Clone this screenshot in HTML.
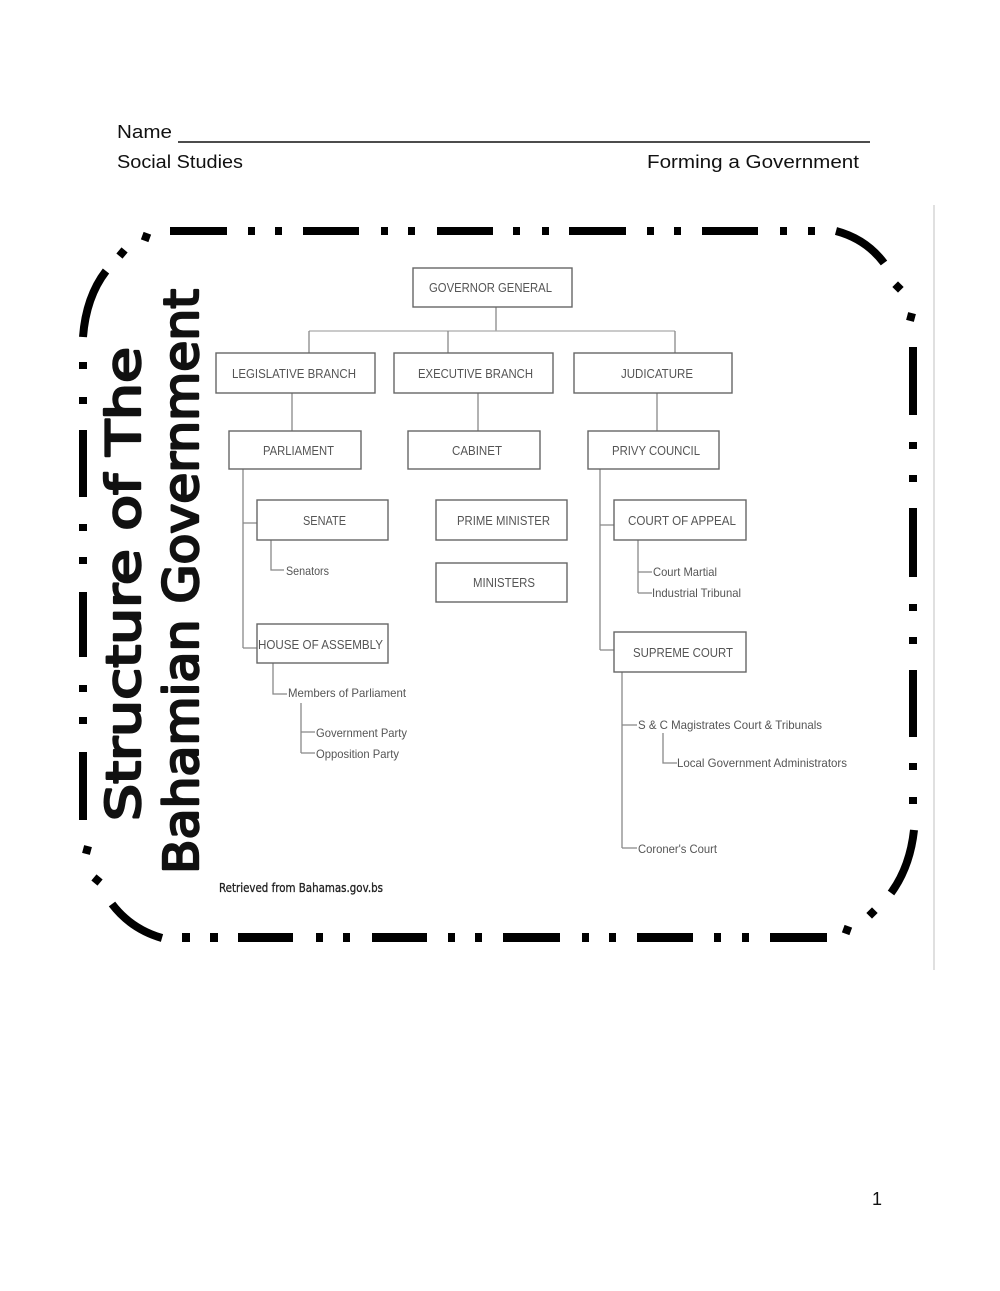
<!DOCTYPE html>
<html><head><meta charset="utf-8"><style>
html,body{margin:0;padding:0;background:#fff;}
svg{display:block;}
.h{font-family:"Liberation Sans",sans-serif;font-size:18px;fill:#111;}
.b{font-family:"Liberation Sans",sans-serif;font-size:12.5px;fill:#555;}
.l{font-family:"Liberation Sans",sans-serif;font-size:12px;fill:#555;}
.t{font-family:"DejaVu Sans","Liberation Sans",sans-serif;font-weight:normal;fill:#111;stroke:#111;stroke-width:2.4;stroke-linejoin:round;}
</style></head><body>
<svg width="1000" height="1291" viewBox="0 0 1000 1291" xmlns="http://www.w3.org/2000/svg">
<rect width="1000" height="1291" fill="#fff"/>
<!-- header -->
<text class="h" x="117" y="138" textLength="55" lengthAdjust="spacingAndGlyphs">Name</text>
<line x1="178" y1="142" x2="870" y2="142" stroke="#111" stroke-width="1.4"/>
<text class="h" x="117" y="168" textLength="126" lengthAdjust="spacingAndGlyphs">Social Studies</text>
<text class="h" x="647" y="168" textLength="212" lengthAdjust="spacingAndGlyphs">Forming a Government</text>
<line x1="934" y1="205" x2="934" y2="970" stroke="#ccc" stroke-width="1.2"/>

<!-- border -->
<g fill="#000">
<rect x="170" y="227" width="57" height="8"/><rect x="303" y="227" width="56" height="8"/><rect x="437" y="227" width="56" height="8"/><rect x="569" y="227" width="57" height="8"/><rect x="702" y="227" width="56" height="8"/>
<rect x="248" y="227" width="7" height="8"/><rect x="275" y="227" width="7" height="8"/><rect x="381" y="227" width="7" height="8"/><rect x="408" y="227" width="7" height="8"/><rect x="513" y="227" width="7" height="8"/><rect x="542" y="227" width="7" height="8"/><rect x="647" y="227" width="7" height="8"/><rect x="674" y="227" width="7" height="8"/><rect x="780" y="227" width="7" height="8"/><rect x="808" y="227" width="7" height="8"/>
<rect x="238" y="933" width="55" height="9"/><rect x="372" y="933" width="55" height="9"/><rect x="503" y="933" width="57" height="9"/><rect x="637" y="933" width="56" height="9"/><rect x="770" y="933" width="57" height="9"/>
<rect x="182" y="933" width="8" height="9"/><rect x="210" y="933" width="8" height="9"/><rect x="316" y="933" width="7" height="9"/><rect x="343" y="933" width="7" height="9"/><rect x="448" y="933" width="7" height="9"/><rect x="475" y="933" width="7" height="9"/><rect x="582" y="933" width="7" height="9"/><rect x="609" y="933" width="7" height="9"/><rect x="714" y="933" width="7" height="9"/><rect x="742" y="933" width="7" height="9"/>
<rect x="79" y="430" width="8" height="67"/><rect x="79" y="592" width="8" height="65"/><rect x="79" y="752" width="8" height="68"/>
<rect x="79" y="362" width="8" height="7"/><rect x="79" y="397" width="8" height="7"/><rect x="79" y="524" width="8" height="7"/><rect x="79" y="557" width="8" height="7"/><rect x="79" y="685" width="8" height="7"/><rect x="79" y="717" width="8" height="7"/>
<rect x="909" y="347" width="8" height="68"/><rect x="909" y="508" width="8" height="69"/><rect x="909" y="670" width="8" height="67"/>
<rect x="909" y="442" width="8" height="7"/><rect x="909" y="475" width="8" height="7"/><rect x="909" y="604" width="8" height="7"/><rect x="909" y="637" width="8" height="7"/><rect x="909" y="763" width="8" height="7"/><rect x="909" y="797" width="8" height="7"/>
<rect x="-4" y="-4" width="8" height="8" transform="translate(122,253) rotate(40)"/>
<rect x="-4" y="-4" width="8" height="8" transform="translate(146,237) rotate(20)"/>
<rect x="-4" y="-4" width="8" height="8" transform="translate(898,287) rotate(45)"/>
<rect x="-4" y="-4" width="8" height="8" transform="translate(911,317) rotate(15)"/>
<rect x="-4" y="-4" width="8" height="8" transform="translate(872,913) rotate(45)"/>
<rect x="-4" y="-4" width="8" height="8" transform="translate(847,930) rotate(20)"/>
<rect x="-4" y="-4" width="8" height="8" transform="translate(97,880) rotate(40)"/>
<rect x="-4" y="-4" width="8" height="8" transform="translate(87,850) rotate(15)"/>
</g>
<g fill="none" stroke="#000" stroke-width="8">
<path d="M83,337 Q86,297 106,271"/>
<path d="M836,231 Q866,239 884,263"/>
<path d="M914,830 Q910,867 891,893"/>
<path d="M112,904 Q131,929 162,938"/>
</g>

<!-- title -->
<text class="t" font-size="47" transform="translate(140,821) rotate(-90)" textLength="474" lengthAdjust="spacingAndGlyphs">Structure of The</text>
<text class="t" font-size="48" transform="translate(198,874) rotate(-90)" textLength="585" lengthAdjust="spacingAndGlyphs">Bahamian Government</text>

<!-- connectors -->
<g stroke="#888" stroke-width="1.3" fill="none">
<path d="M496,307V331"/>
<path d="M309,331H675" stroke="#aaa"/>
<path d="M309,331V353M448,331V353M675,331V353"/>
<path d="M292,393V431M478,393V431M657,393V431"/>
<path d="M243,469V648M243,523H257M243,648H257"/>
<path d="M271,540V570H284"/>
<path d="M273,663V694H287"/>
<path d="M301,703V753M301,732H315M301,753H315"/>
<path d="M600,469V650M600,525H614M600,650H614"/>
<path d="M638,540V593M638,572H652M638,593H652"/>
<path d="M622,672V848M622,725H637M622,848H637"/>
<path d="M663,733V763H677"/>
</g>
<!-- boxes -->
<g stroke="#666" stroke-width="1.4" fill="#fff">
<rect x="413" y="268" width="159" height="39"/>
<rect x="216" y="353" width="159" height="40"/>
<rect x="394" y="353" width="159" height="40"/>
<rect x="574" y="353" width="158" height="40"/>
<rect x="229" y="431" width="132" height="38"/>
<rect x="408" y="431" width="132" height="38"/>
<rect x="588" y="431" width="131" height="38"/>
<rect x="257" y="500" width="131" height="40"/>
<rect x="257" y="624" width="131" height="39"/>
<rect x="436" y="500" width="131" height="40"/>
<rect x="436" y="563" width="131" height="39"/>
<rect x="614" y="500" width="132" height="40"/>
<rect x="614" y="632" width="132" height="40"/>
</g>
<text class="b" x="429" y="292" textLength="123" lengthAdjust="spacingAndGlyphs">GOVERNOR GENERAL</text>
<text class="b" x="232" y="378" textLength="124" lengthAdjust="spacingAndGlyphs">LEGISLATIVE BRANCH</text>
<text class="b" x="418" y="378" textLength="115" lengthAdjust="spacingAndGlyphs">EXECUTIVE BRANCH</text>
<text class="b" x="621" y="378" textLength="72" lengthAdjust="spacingAndGlyphs">JUDICATURE</text>
<text class="b" x="263" y="455" textLength="71" lengthAdjust="spacingAndGlyphs">PARLIAMENT</text>
<text class="b" x="452" y="455" textLength="50" lengthAdjust="spacingAndGlyphs">CABINET</text>
<text class="b" x="612" y="455" textLength="88" lengthAdjust="spacingAndGlyphs">PRIVY COUNCIL</text>
<text class="b" x="303" y="525" textLength="43" lengthAdjust="spacingAndGlyphs">SENATE</text>
<text class="b" x="457" y="525" textLength="93" lengthAdjust="spacingAndGlyphs">PRIME MINISTER</text>
<text class="b" x="473" y="587" textLength="62" lengthAdjust="spacingAndGlyphs">MINISTERS</text>
<text class="b" x="258" y="649" textLength="125" lengthAdjust="spacingAndGlyphs">HOUSE OF ASSEMBLY</text>
<text class="b" x="628" y="525" textLength="108" lengthAdjust="spacingAndGlyphs">COURT OF APPEAL</text>
<text class="b" x="633" y="657" textLength="100" lengthAdjust="spacingAndGlyphs">SUPREME COURT</text>
<text class="l" x="286" y="575" textLength="43" lengthAdjust="spacingAndGlyphs">Senators</text>
<text class="l" x="288" y="697" textLength="118" lengthAdjust="spacingAndGlyphs">Members of Parliament</text>
<text class="l" x="316" y="737" textLength="91" lengthAdjust="spacingAndGlyphs">Government Party</text>
<text class="l" x="316" y="758" textLength="83" lengthAdjust="spacingAndGlyphs">Opposition Party</text>
<text class="l" x="653" y="576" textLength="64" lengthAdjust="spacingAndGlyphs">Court Martial</text>
<text class="l" x="652" y="597" textLength="89" lengthAdjust="spacingAndGlyphs">Industrial Tribunal</text>
<text class="l" x="638" y="729" textLength="184" lengthAdjust="spacingAndGlyphs">S &amp; C Magistrates Court &amp; Tribunals</text>
<text class="l" x="677" y="767" textLength="170" lengthAdjust="spacingAndGlyphs">Local Government Administrators</text>
<text class="l" x="638" y="853" textLength="79" lengthAdjust="spacingAndGlyphs">Coroner's Court</text>
<text x="219" y="892" font-family="DejaVu Sans, Liberation Sans, sans-serif" font-size="12" fill="#222" stroke="#222" stroke-width="0.3" textLength="164" lengthAdjust="spacingAndGlyphs">Retrieved from Bahamas.gov.bs</text>

<text class="h" x="872" y="1205" font-size="16">1</text>
</svg>
</body></html>
